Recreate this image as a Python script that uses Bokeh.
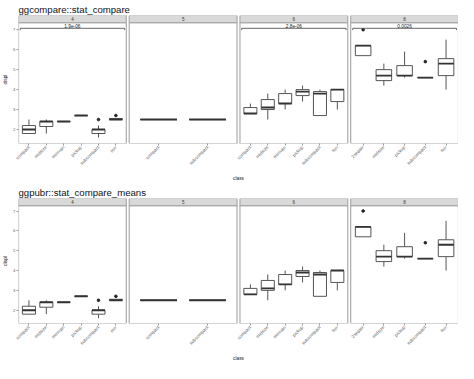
import math
from bokeh.plotting import figure
from bokeh.models import Range1d, FixedTicker, ColumnDataSource
from bokeh.layouts import column
from bokeh.embed import file_html
from bokeh.resources import INLINE
from bokeh.core.properties import value

FONT = "Liberation Sans"

# ---- data ----
titles = ["ggcompare::stat_compare", "ggpubr::stat_compare_means"]
facets = ["4", "5", "6", "8"]
classes = [
    ["compact", "midsize", "minivan", "pickup", "subcompact", "suv"],
    ["compact", "subcompact"],
    ["compact", "midsize", "minivan", "pickup", "subcompact", "suv"],
    ["2seater", "midsize", "pickup", "subcompact", "suv"],
]
whisker_low = [[1.8, 1.8, 2.4, 2.7, 1.6, 2.5], [2.5, 2.5],
               [2.8, 2.5, 3.0, 3.4, 2.7, 3.0], [5.7, 4.2, 4.6, 4.6, 4.0]]
q1 = [[1.8, 2.15, 2.4, 2.7, 1.8, 2.5], [2.5, 2.5],
      [2.8, 3.0, 3.3, 3.7, 2.7, 3.4], [5.7, 4.45, 4.7, 4.6, 4.7]]
median = [[2.0, 2.4, 2.4, 2.7, 2.0, 2.5], [2.5, 2.5],
          [2.8, 3.1, 3.3, 3.9, 3.8, 4.0], [6.2, 4.7, 4.7, 4.6, 5.3]]
q3 = [[2.2, 2.4, 2.4, 2.7, 2.0, 2.55], [2.5, 2.5],
      [3.1, 3.5, 3.8, 4.0, 3.9, 4.0], [6.2, 5.0, 5.2, 4.6, 5.55]]
whisker_high = [[2.5, 2.5, 2.4, 2.7, 2.2, 2.55], [2.5, 2.5],
                [3.3, 3.8, 4.0, 4.2, 4.0, 4.0], [6.2, 5.3, 5.9, 4.6, 6.5]]
outlier_class = [["subcompact", "suv"], [], [], ["2seater", "subcompact"]]
outlier_value = [[2.5, 2.7], [], [], [7.0, 5.4]]
p_labels = ["1.9e-06", "", "2.8e-06", "0.0026"]
bracket_y = 7.07
y_ticks = [2, 3, 4, 5, 6, 7]

# ---- layout constants ----
PANEL_LEFT = [0, 114, 228, 342]
PANEL_W = 111
X_MAX = 453


def xpos(f, i):
    n = len(classes[f])
    return PANEL_LEFT[f] + (i + 0.6) / (n + 0.2) * PANEL_W


def half_w(f):
    n = len(classes[f])
    return 0.375 * PANEL_W / (n + 0.2)


def make_row(title, show_p, lo, hi, height, frame_est):
    strip_h = (hi - lo) * 8.0 / (frame_est - 8.0)
    p = figure(width=458, height=height, x_range=Range1d(0, X_MAX),
               y_range=Range1d(lo, hi + strip_h), output_backend="svg",
               toolbar_location=None, min_border_left=15, min_border_right=0,
               min_border_top=0, min_border_bottom=0, title=title)
    p.outline_line_color = None
    p.xgrid.grid_line_color = None
    p.ygrid.grid_line_color = None
    p.title.text_font = FONT
    p.title.text_font_size = "9.6px"
    p.title.text_font_style = "normal"
    p.title.text_color = "#111111"
    p.title.standoff = 2
    p.title.offset = 0

    # panels and strips
    p.quad(left=PANEL_LEFT, right=[l + PANEL_W for l in PANEL_LEFT],
           bottom=lo, top=hi, fill_color="white", line_color="#ABABAB",
           line_width=1.2)
    p.quad(left=PANEL_LEFT, right=[l + PANEL_W for l in PANEL_LEFT],
           bottom=hi, top=hi + strip_h, fill_color="#D9D9D9",
           line_color="#ABABAB", line_width=1.2)
    p.text(x=[l + PANEL_W / 2 for l in PANEL_LEFT], y=hi + strip_h / 2,
           text=facets, text_font=value(FONT), text_font_size="4.5px",
           text_align="center", text_baseline="middle", text_color="#333333")

    # boxes
    xs, lefts, rights, lows, q1s, meds, q3s, highs = [], [], [], [], [], [], [], []
    for f in range(len(facets)):
        hw = half_w(f)
        for i in range(len(classes[f])):
            x = xpos(f, i)
            xs.append(x)
            lefts.append(x - hw)
            rights.append(x + hw)
            lows.append(whisker_low[f][i])
            q1s.append(q1[f][i])
            meds.append(median[f][i])
            q3s.append(q3[f][i])
            highs.append(whisker_high[f][i])
    src = ColumnDataSource(dict(x=xs, left=lefts, right=rights, low=lows,
                                q1=q1s, med=meds, q3=q3s, high=highs))
    p.segment(x0="x", x1="x", y0="q3", y1="high", source=src,
              line_color="#555555", line_width=1)
    p.segment(x0="x", x1="x", y0="low", y1="q1", source=src,
              line_color="#555555", line_width=1)
    p.quad(left="left", right="right", bottom="q1", top="q3", source=src,
           fill_color="white", line_color="#555555", line_width=1)
    p.segment(x0="left", x1="right", y0="med", y1="med", source=src,
              line_color="#333333", line_width=1.9)

    ox, oy = [], []
    for f in range(len(facets)):
        for c, v in zip(outlier_class[f], outlier_value[f]):
            ox.append(xpos(f, classes[f].index(c)))
            oy.append(v)
    p.scatter(ox, oy, size=2.6, color="#222222")

    if show_p:
        bx0, bx1, tx, tl = [], [], [], []
        for f in range(len(facets)):
            if not p_labels[f]:
                continue
            n = len(classes[f])
            x0 = PANEL_LEFT[f] + 0.1 / (n + 0.2) * PANEL_W
            x1 = PANEL_LEFT[f] + (n + 0.1) / (n + 0.2) * PANEL_W
            bx0.append(x0)
            bx1.append(x1)
            tx.append((x0 + x1) / 2)
            tl.append(p_labels[f])
        p.segment(x0=bx0, x1=bx1, y0=bracket_y, y1=bracket_y,
                  line_color="#555555", line_width=0.9)
        p.segment(x0=bx0, x1=bx0, y0=bracket_y, y1=bracket_y - 0.09,
                  line_color="#555555", line_width=0.9)
        p.segment(x0=bx1, x1=bx1, y0=bracket_y, y1=bracket_y - 0.09,
                  line_color="#555555", line_width=0.9)
        p.text(x=tx, y=bracket_y + 0.03, text=tl, text_font=value(FONT),
               text_font_size="4.8px", text_align="center",
               text_baseline="bottom", text_color="#222222")

    # axes
    tick_pos = []
    overrides = {}
    for f in range(len(facets)):
        for i, c in enumerate(classes[f]):
            x = round(xpos(f, i), 3)
            tick_pos.append(x)
            overrides[x] = c
    xa = p.xaxis[0]
    xa.ticker = FixedTicker(ticks=tick_pos)
    xa.major_label_overrides = overrides
    xa.major_label_orientation = math.pi / 4
    xa.axis_line_color = None
    xa.major_tick_line_color = "#9A9A9A"
    xa.major_tick_out = 2
    xa.major_tick_in = 0
    xa.minor_tick_line_color = None
    xa.major_label_text_font = FONT
    xa.major_label_text_font_size = "4.6px"
    xa.major_label_text_color = "#666666"
    xa.major_label_standoff = 1
    xa.axis_label = "class"
    xa.axis_label_text_font = FONT
    xa.axis_label_text_font_size = "4.8px"
    xa.axis_label_text_font_style = "normal"
    xa.axis_label_text_color = "#222222"
    xa.axis_label_standoff = 5

    ya = p.yaxis[0]
    ya.ticker = FixedTicker(ticks=y_ticks)
    ya.axis_line_color = None
    ya.major_tick_line_color = "#9A9A9A"
    ya.major_tick_out = 2
    ya.major_tick_in = 0
    ya.minor_tick_line_color = None
    ya.major_label_text_font = FONT
    ya.major_label_text_font_size = "4.3px"
    ya.major_label_text_color = "#666666"
    ya.major_label_standoff = 1
    ya.axis_label = "displ"
    ya.axis_label_text_font = FONT
    ya.axis_label_text_font_size = "4.8px"
    ya.axis_label_text_font_style = "normal"
    ya.axis_label_text_color = "#222222"
    ya.axis_label_standoff = 2
    return p


p1 = make_row(titles[0], True, 1.3, 7.35, 183, 142)
p2 = make_row(titles[1], False, 1.33, 7.27, 180, 140)
layout = column(p1, p2, spacing=0)

open("out.html", "w").write(file_html(layout, INLINE))
